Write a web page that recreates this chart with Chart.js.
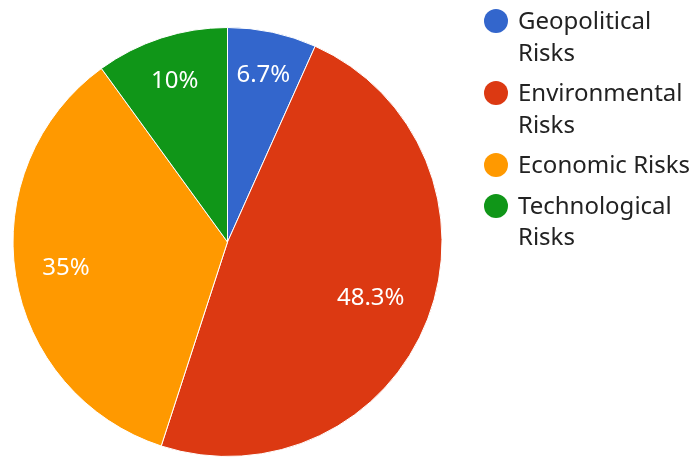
<!DOCTYPE html>
<html>
<head>
<meta charset="utf-8">
<script src="https://cdn.jsdelivr.net/npm/chart.js@4/dist/chart.umd.min.js"></script>
<style>
  html, body { margin: 0; padding: 0; background: #fff; }
  #wrap { position: relative; width: 696px; height: 457px; }
  #c { position: absolute; left: 0; top: 0; }
  #legend { position: absolute; left: 484px; top: 4px; font-family: "Noto Sans", sans-serif; font-size: 24px; line-height: 31.5px; color: #222; }
  .item { position: relative; padding-left: 34px; margin-bottom: 9px; width: 180px; }
  .dot { position: absolute; left: 0; top: 5px; width: 24px; height: 24px; border-radius: 50%; }
</style>
</head>
<body>
<div id="wrap">
  <canvas id="c" width="696" height="457"></canvas>
  <div id="legend"></div>
</div>
<script>
const categories = ["Geopolitical Risks", "Environmental Risks", "Economic Risks", "Technological Risks"];
const values = [6.7, 48.3, 35, 10];
const labelsText = ["6.7%", "48.3%", "35%", "10%"];
const colors = ["#3366CC", "#DC3912", "#FF9900", "#109618"];

const legendEl = document.getElementById('legend');
categories.forEach((name, i) => {
  const d = document.createElement('div');
  d.className = 'item';
  d.innerHTML = '<span class="dot" style="background:' + colors[i] + '"></span>' + name;
  legendEl.appendChild(d);
});

const sliceLabels = {
  id: 'sliceLabels',
  afterDatasetsDraw(chart) {
    const ctx = chart.ctx;
    const meta = chart.getDatasetMeta(0);
    ctx.save();
    ctx.font = '24px "Noto Sans", sans-serif';
    ctx.fillStyle = '#ffffff';
    ctx.textAlign = 'center';
    ctx.textBaseline = 'middle';
    meta.data.forEach((arc, i) => {
      const p = arc.getProps(['x', 'y', 'startAngle', 'endAngle', 'outerRadius'], true);
      const mid = (p.startAngle + p.endAngle) / 2;
      const w = ctx.measureText(labelsText[i]).width;
      const h = 20;
      const limit = 0.88 * p.outerRadius;
      let r = p.outerRadius;
      for (; r > 0; r -= 0.5) {
        const cx = Math.cos(mid) * r, cy = Math.sin(mid) * r;
        let maxD = 0;
        [[-w/2, -h/2], [w/2, -h/2], [-w/2, h/2], [w/2, h/2]].forEach(([dx, dy]) => {
          maxD = Math.max(maxD, Math.hypot(cx + dx, cy + dy));
        });
        if (maxD <= limit) break;
      }
      ctx.fillText(labelsText[i], p.x + Math.cos(mid) * r, p.y + Math.sin(mid) * r + 1);
    });
    ctx.restore();
  }
};

new Chart(document.getElementById('c'), {
  type: 'pie',
  data: {
    labels: categories,
    datasets: [{
      data: values,
      backgroundColor: colors,
      borderColor: '#ffffff',
      borderWidth: 1
    }]
  },
  options: {
    responsive: false,
    animation: false,
    layout: { padding: { left: 12, top: 27, bottom: -1, right: 253 } },
    plugins: { legend: { display: false }, tooltip: { enabled: false } }
  },
  plugins: [sliceLabels]
});
</script>
</body>
</html>
